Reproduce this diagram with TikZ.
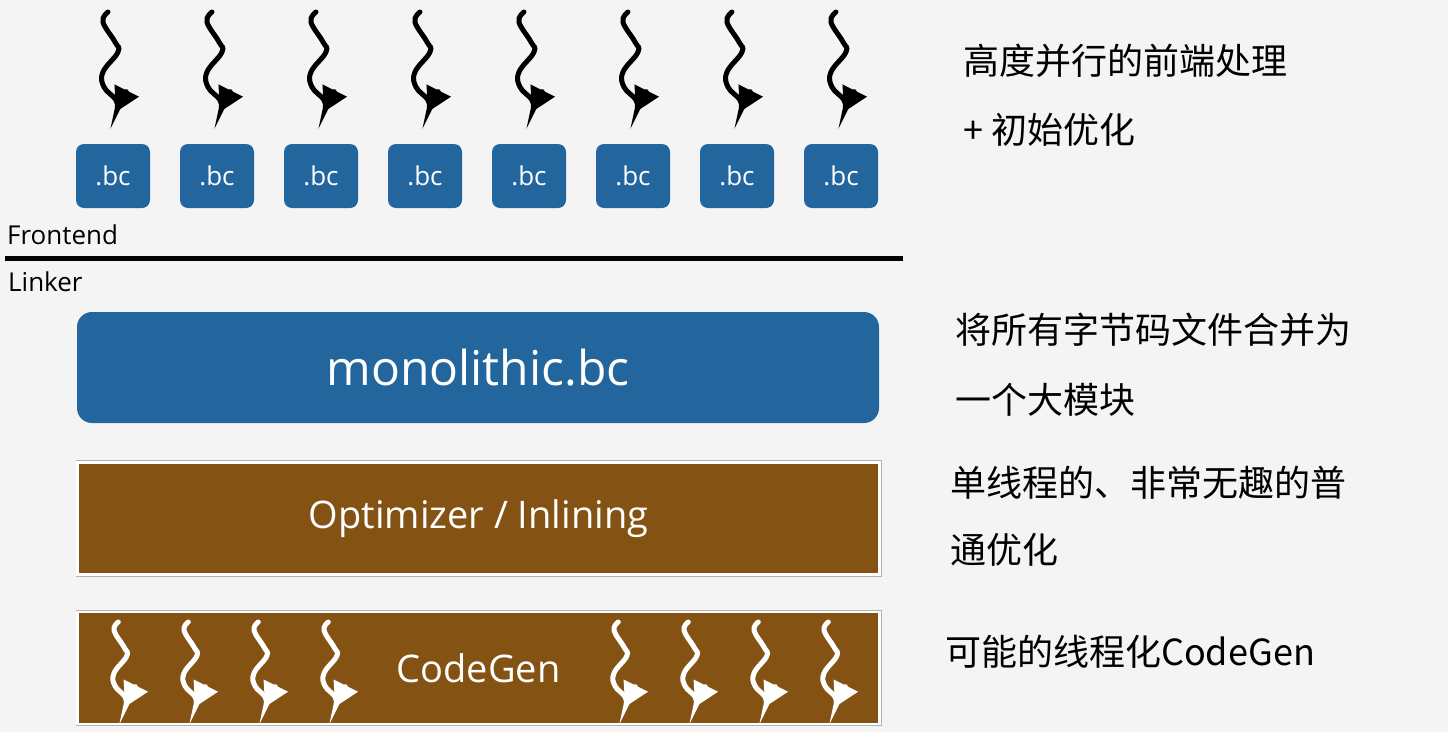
\documentclass[tikz,border=0pt]{standalone}
\usepackage{fontspec}
\setmainfont{Open Sans}
\newfontfamily\cjk{Noto Sans CJK SC}
\usetikzlibrary{arrows.meta}
\definecolor{bcblue}{RGB}{35,102,158}
\definecolor{brownbox}{RGB}{132,83,20}
\definecolor{bg}{RGB}{244,244,244}
\tikzset{
  bcbox/.style={fill=bcblue,rounded corners=8pt,minimum width=74pt,minimum height=64pt,inner sep=0pt,text=white,font=\fontsize{26}{28}\selectfont},
  brbox/.style={fill=brownbox,draw=white,line width=2.5pt,minimum width=802pt,minimum height=112pt,inner sep=0pt,text=white,font=\fontsize{38}{42}\selectfont},
  cn/.style={anchor=west,font=\cjk\fontsize{36}{40}\selectfont,inner sep=0pt},
  lab/.style={anchor=west,font=\fontsize{26}{28}\selectfont,inner sep=0pt},
  squig/.pic={\draw[line width=5pt,line cap=round,-{Triangle[length=24pt,width=26pt]}]
     plot[smooth,tension=0.7] coordinates {(-2,0)(-7,10)(5,30)(8,40)(-7,60)(-6,75)(6,88)(7,98)} -- (6,100);}
}
\begin{document}
\begin{tikzpicture}[x=1pt,y=-1pt]
\fill[bg] (0,0) rectangle (1448,732);
\useasboundingbox (0,0) rectangle (1448,732);
\foreach \i/\x in {1/113,2/217,3/321,4/425,5/529,6/633,7/737,8/841}{
  \node[bcbox] (b\i) at (\x,176) {.bc};
  \pic at (\x-3,12) {squig};
}
\node[lab] (fe) at (7,235) {Frontend};
\node[lab] (lk) at (8,282) {Linker};
\coordinate (la) at (5,258); \coordinate (lb) at (903,258);
\draw[line width=5pt] (la) -- (lb);
\node[fill=bcblue,rounded corners=15pt,minimum width=802pt,minimum height=111pt,text=white,font=\fontsize{48}{52}\selectfont] (mono) at (478,367.5) {monolithic.bc};
\draw[gray!60,line width=0.8pt] (76,460.5) rectangle (881,576.5);
\node[brbox] (opt) at (478.5,518.5) {Optimizer / Inlining};
\draw[gray!60,line width=0.8pt] (76,610.5) rectangle (881,725.5);
\node[brbox] (cg) at (478.5,668) {CodeGen};
\foreach \x in {122,192,262,332,622,692,762,832}{
  \pic[white,scale=0.85] at (\x-2,622) {squig};
}
\node[cn] (t1) at (963,61) {高度并行的前端处理};
\node[cn] (t2) at (963,130) {+ 初始优化};
\node[cn] (t3) at (955,330) {将所有字节码文件合并为};
\node[cn] (t4) at (955,400) {一个大模块};
\node[cn] (t5) at (950,483) {单线程的、非常无趣的普};
\node[cn] (t6) at (950,550) {通优化};
\node[cn] (t7) at (945,652) {可能的线程化CodeGen};
\end{tikzpicture}
\end{document}
